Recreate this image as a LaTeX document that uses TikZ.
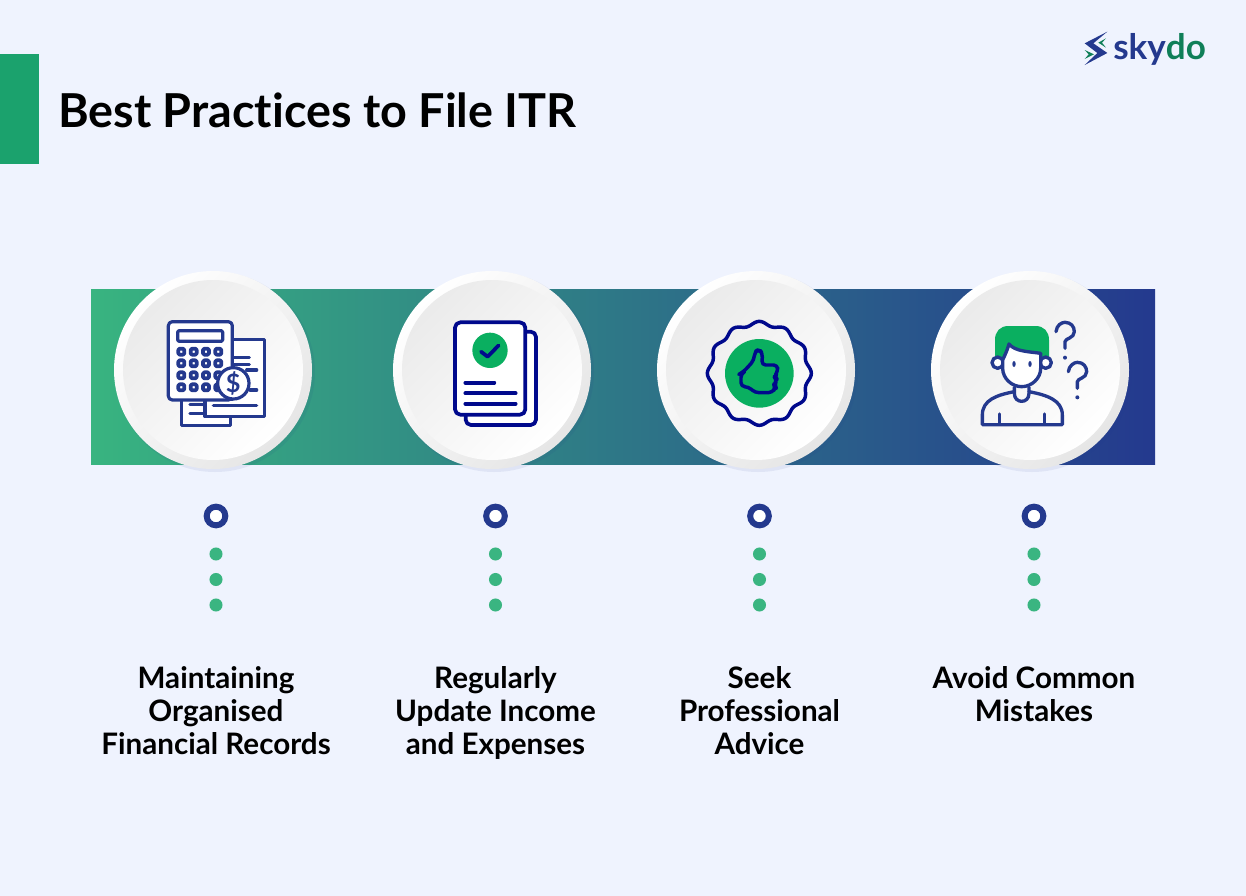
\documentclass[tikz,border=0pt]{standalone}
\usepackage{fontspec}
\setmainfont{Lato}[Ligatures=NoCommon]
\usetikzlibrary{positioning}
\definecolor{pagebg}{HTML}{EFF3FE}
\definecolor{tabgreen}{HTML}{1BA26D}
\definecolor{barleft}{HTML}{38B480}
\definecolor{barright}{HTML}{24398E}
\definecolor{iconblue}{HTML}{24398E}
\definecolor{icondeep}{HTML}{00098C}
\definecolor{icongreen}{HTML}{0AAF60}
\definecolor{dotgreen}{HTML}{3AB581}
\definecolor{logogreen}{HTML}{0F7F58}
\tikzset{
	outerdisc/.style={circle, minimum size=148.5pt, inner sep=0pt, shading=axis, top color=white, bottom color=black!10, shading angle=45},
	innerdisc/.style={circle, minimum size=135pt, inner sep=0pt, shading=axis, top color=black!8, bottom color=white, shading angle=45},
	discshadow/.style={fill=iconblue, opacity=0.08},
	ringmark/.style={circle, draw=iconblue, line width=4.5pt, fill=white, minimum size=14pt, inner sep=0pt},
	dotmark/.style={circle, fill=dotgreen, minimum size=9.8pt, inner sep=0pt},
	steplabel/.style={align=center, anchor=north, inner sep=0pt, font=\fontsize{22.2}{24.75}\selectfont\bfseries},
	zoomed/.style={x=0.25pt, y=-0.25pt},
}
\newcommand{\keyrow}{\draw[rounded corners=1pt] (205,-9) rectangle (223,9);
					\draw[rounded corners=1pt] (242,-9) rectangle (260,9);
					\draw[rounded corners=1pt] (279,-9) rectangle (297,9);
					\draw[rounded corners=1pt] (316,-9) rectangle (334,9);}
\begin{document}
\begin{tikzpicture}[x=0.75pt, y=-0.75pt]
	\useasboundingbox (0,0) rectangle (1246,896);
	\fill[pagebg] (0,0) rectangle (1246,896);

	% header
	\fill[tabgreen] (0,54) rectangle (39,164);
	\node[anchor=base west, inner sep=0pt, font=\fontsize{35.05}{40}\selectfont\bfseries] (title) at (58,127) {Best Practices to File ITR};

	% logo
	\begin{scope}[shift={(1080,25)}, zoomed]
		\fill[iconblue] (82,20) -- (14,55) -- (52,84) -- (14,120) -- (82,84) -- (40,55) -- cycle;
		\fill[logogreen] (78,40) -- (55,53) -- (78,68) -- (66,53) -- cycle;
		\fill[logogreen] (14,75) -- (42,88) -- (14,102) -- (26,88) -- cycle;
	\end{scope}
	\node[anchor=base west, inner sep=0pt, font=\fontsize{26.3}{30}\selectfont\bfseries] (logotext) at (1113,59) {\textcolor{iconblue}{sky}\textcolor{logogreen}{do}};

	% band
	\shade[left color=barleft, right color=barright] (91,289) rectangle (1155,464.5);

	% discs
	\fill[discshadow] (215,372) circle (100);
	\node[outerdisc] (discone) at (213,370) {};
	\node[innerdisc] (inone) at (213,370) {};
	\fill[discshadow] (494,372) circle (100);
	\node[outerdisc] (disctwo) at (492,370) {};
	\node[innerdisc] (intwo) at (492,370) {};
	\fill[discshadow] (758,372) circle (100);
	\node[outerdisc] (discthree) at (756,370) {};
	\node[innerdisc] (inthree) at (756,370) {};
	\fill[discshadow] (1032,372) circle (100);
	\node[outerdisc] (discfour) at (1030,370) {};
	\node[innerdisc] (infour) at (1030,370) {};

	% calculator
	\begin{scope}[shift={(110,270)}, zoomed, draw=iconblue, line width=2.4pt, line cap=round, line join=round]
		\draw[fill=white] (215,390) -- (215,466) -- (362,466) -- (362,440);
		\draw (240,403) -- (285,403);
		\draw (240,430) -- (285,430);
		\draw[fill=white] (367,208) -- (463,208) -- (463,440) -- (285,440) -- (285,388) -- (367,388) -- cycle;
		\draw (367,262) -- (418,262);
		\draw (367,283) -- (418,283);
		\draw (410,300) -- (440,300);
		\draw (420,360) -- (440,360);
		\draw (310,407) -- (440,407);
		\draw[fill=white, rounded corners=3pt] (175,155) rectangle (367,390);
		\draw[rounded corners=1pt] (203,182) rectangle (338,214);
		\begin{scope}[shift={(0,245)}, line width=2.8pt]
			\keyrow
		\end{scope}
		\begin{scope}[shift={(0,280)}, line width=2.8pt]
			\keyrow
		\end{scope}
		\begin{scope}[shift={(0,316)}, line width=2.8pt]
			\keyrow
		\end{scope}
		\begin{scope}[shift={(0,352)}, line width=2.8pt]
			\keyrow
		\end{scope}
		\draw[fill=white] (370,340) circle (47);
		\node[text=iconblue, font=\fontsize{19}{19}\selectfont\bfseries, inner sep=0pt] (coinsign) at (370,340) {\$};
	\end{scope}

	% document
	\begin{scope}[shift={(390,270)}, zoomed, draw=icondeep, line width=2.8pt, line cap=round, line join=round]
		\draw[fill=white, rounded corners=4pt] (405,185) -- (438,185) -- (438,465) -- (227,465) -- (227,432);
		\draw[fill=white, rounded corners=4pt] (195,157) rectangle (406,434);
		\fill[icongreen] (300,241) circle (53);
		\draw (273,245) -- (293,260) -- (326,226);
		\draw (226,338) -- (313,338);
		\draw (226,370) -- (377,370);
		\draw (226,401) -- (377,401);
	\end{scope}

	% badge
	\begin{scope}[shift={(655,270)}, zoomed, draw=icondeep, line width=2.6pt, line join=round]
		\draw[smooth, samples=145, domain=0:360] plot ({313+(150+6*cos(12*\x))*cos(\x)}, {310+(150+6*cos(12*\x))*sin(\x)}) -- cycle;
		\fill[icongreen] (313,310) circle (103);
		\draw[rounded corners=3pt] (262,308) -- (280,290) -- (297,270) -- (299,245) -- (312,238) -- (323,250) -- (320,285) -- (368,285) -- (368,305) -- (358,320) -- (366,328) -- (358,345) -- (362,352) -- (352,368) -- (300,368) -- (280,350) -- (258,350) -- (258,310) -- cycle;
	\end{scope}

	% person
	\begin{scope}[shift={(930,270)}, zoomed, draw=iconblue, line width=2.5pt, line cap=round, line join=round]
		\fill[icongreen] (195,265) -- (195,210) .. controls (195,185) and (210,168) .. (235,168) -- (317,168) .. controls (342,168) and (357,185) .. (357,210) -- (357,265) -- cycle;
		\draw[fill=white] (203,278) circle (17);
		\draw[fill=white] (347,278) circle (17);
		\draw[fill=white] (218,270) .. controls (225,255) and (232,240) .. (237,222) .. controls (255,245) and (300,245) .. (332,250) -- (332,295) .. controls (332,325) and (305,350) .. (275,350) .. controls (245,350) and (218,325) .. (218,295) -- cycle;
		\fill[iconblue] (252,282) ellipse (5 and 9);
		\fill[iconblue] (300,282) ellipse (5 and 9);
		\draw (253,352) -- (253,370) .. controls (253,402) and (297,402) .. (297,370) -- (297,352);
		\draw (253,365) .. controls (200,375) and (157,390) .. (157,435) -- (157,464) -- (397,464) -- (397,435) .. controls (397,390) and (350,375) .. (297,365);
		\draw (208,432) -- (208,460);
		\draw (343,432) -- (343,460);
		\draw (378,185) .. controls (380,165) and (395,157) .. (405,157) .. controls (423,157) and (433,170) .. (433,185) .. controls (433,205) and (405,205) .. (405,215) -- (405,235);
		\fill[iconblue] (405,263) circle (6);
		\draw (415,305) .. controls (417,287) and (432,277) .. (442,277) .. controls (460,277) and (470,290) .. (470,305) .. controls (470,325) and (442,325) .. (442,335) -- (442,355);
		\fill[iconblue] (442,382) circle (6);
	\end{scope}

	% markers
	\node[ringmark] (ringone) at (216,516) {};
	\node[dotmark] (dotonea) at (216,554) {};
	\node[dotmark] (dotoneb) at (216,579.5) {};
	\node[dotmark] (dotonec) at (216,605) {};
	\node[ringmark] (ringtwo) at (495.5,516) {};
	\node[dotmark] (dottwoa) at (495.5,554) {};
	\node[dotmark] (dottwob) at (495.5,579.5) {};
	\node[dotmark] (dottwoc) at (495.5,605) {};
	\node[ringmark] (ringthree) at (759.5,516) {};
	\node[dotmark] (dotthreea) at (759.5,554) {};
	\node[dotmark] (dotthreeb) at (759.5,579.5) {};
	\node[dotmark] (dotthreec) at (759.5,605) {};
	\node[ringmark] (ringfour) at (1034,516) {};
	\node[dotmark] (dotfoura) at (1034,554) {};
	\node[dotmark] (dotfourb) at (1034,579.5) {};
	\node[dotmark] (dotfourc) at (1034,605) {};

	% labels
	\node[steplabel] (labelone) at (216,666) {Maintaining\\Organised\\Financial Records};
	\node[steplabel] (labeltwo) at (495.5,666) {Regularly\\Update Income\\and Expenses};
	\node[steplabel] (labelthree) at (759.5,666) {Seek\\Professional\\Advice};
	\node[steplabel] (labelfour) at (1034,666) {Avoid Common\\Mistakes};
\end{tikzpicture}
\end{document}
